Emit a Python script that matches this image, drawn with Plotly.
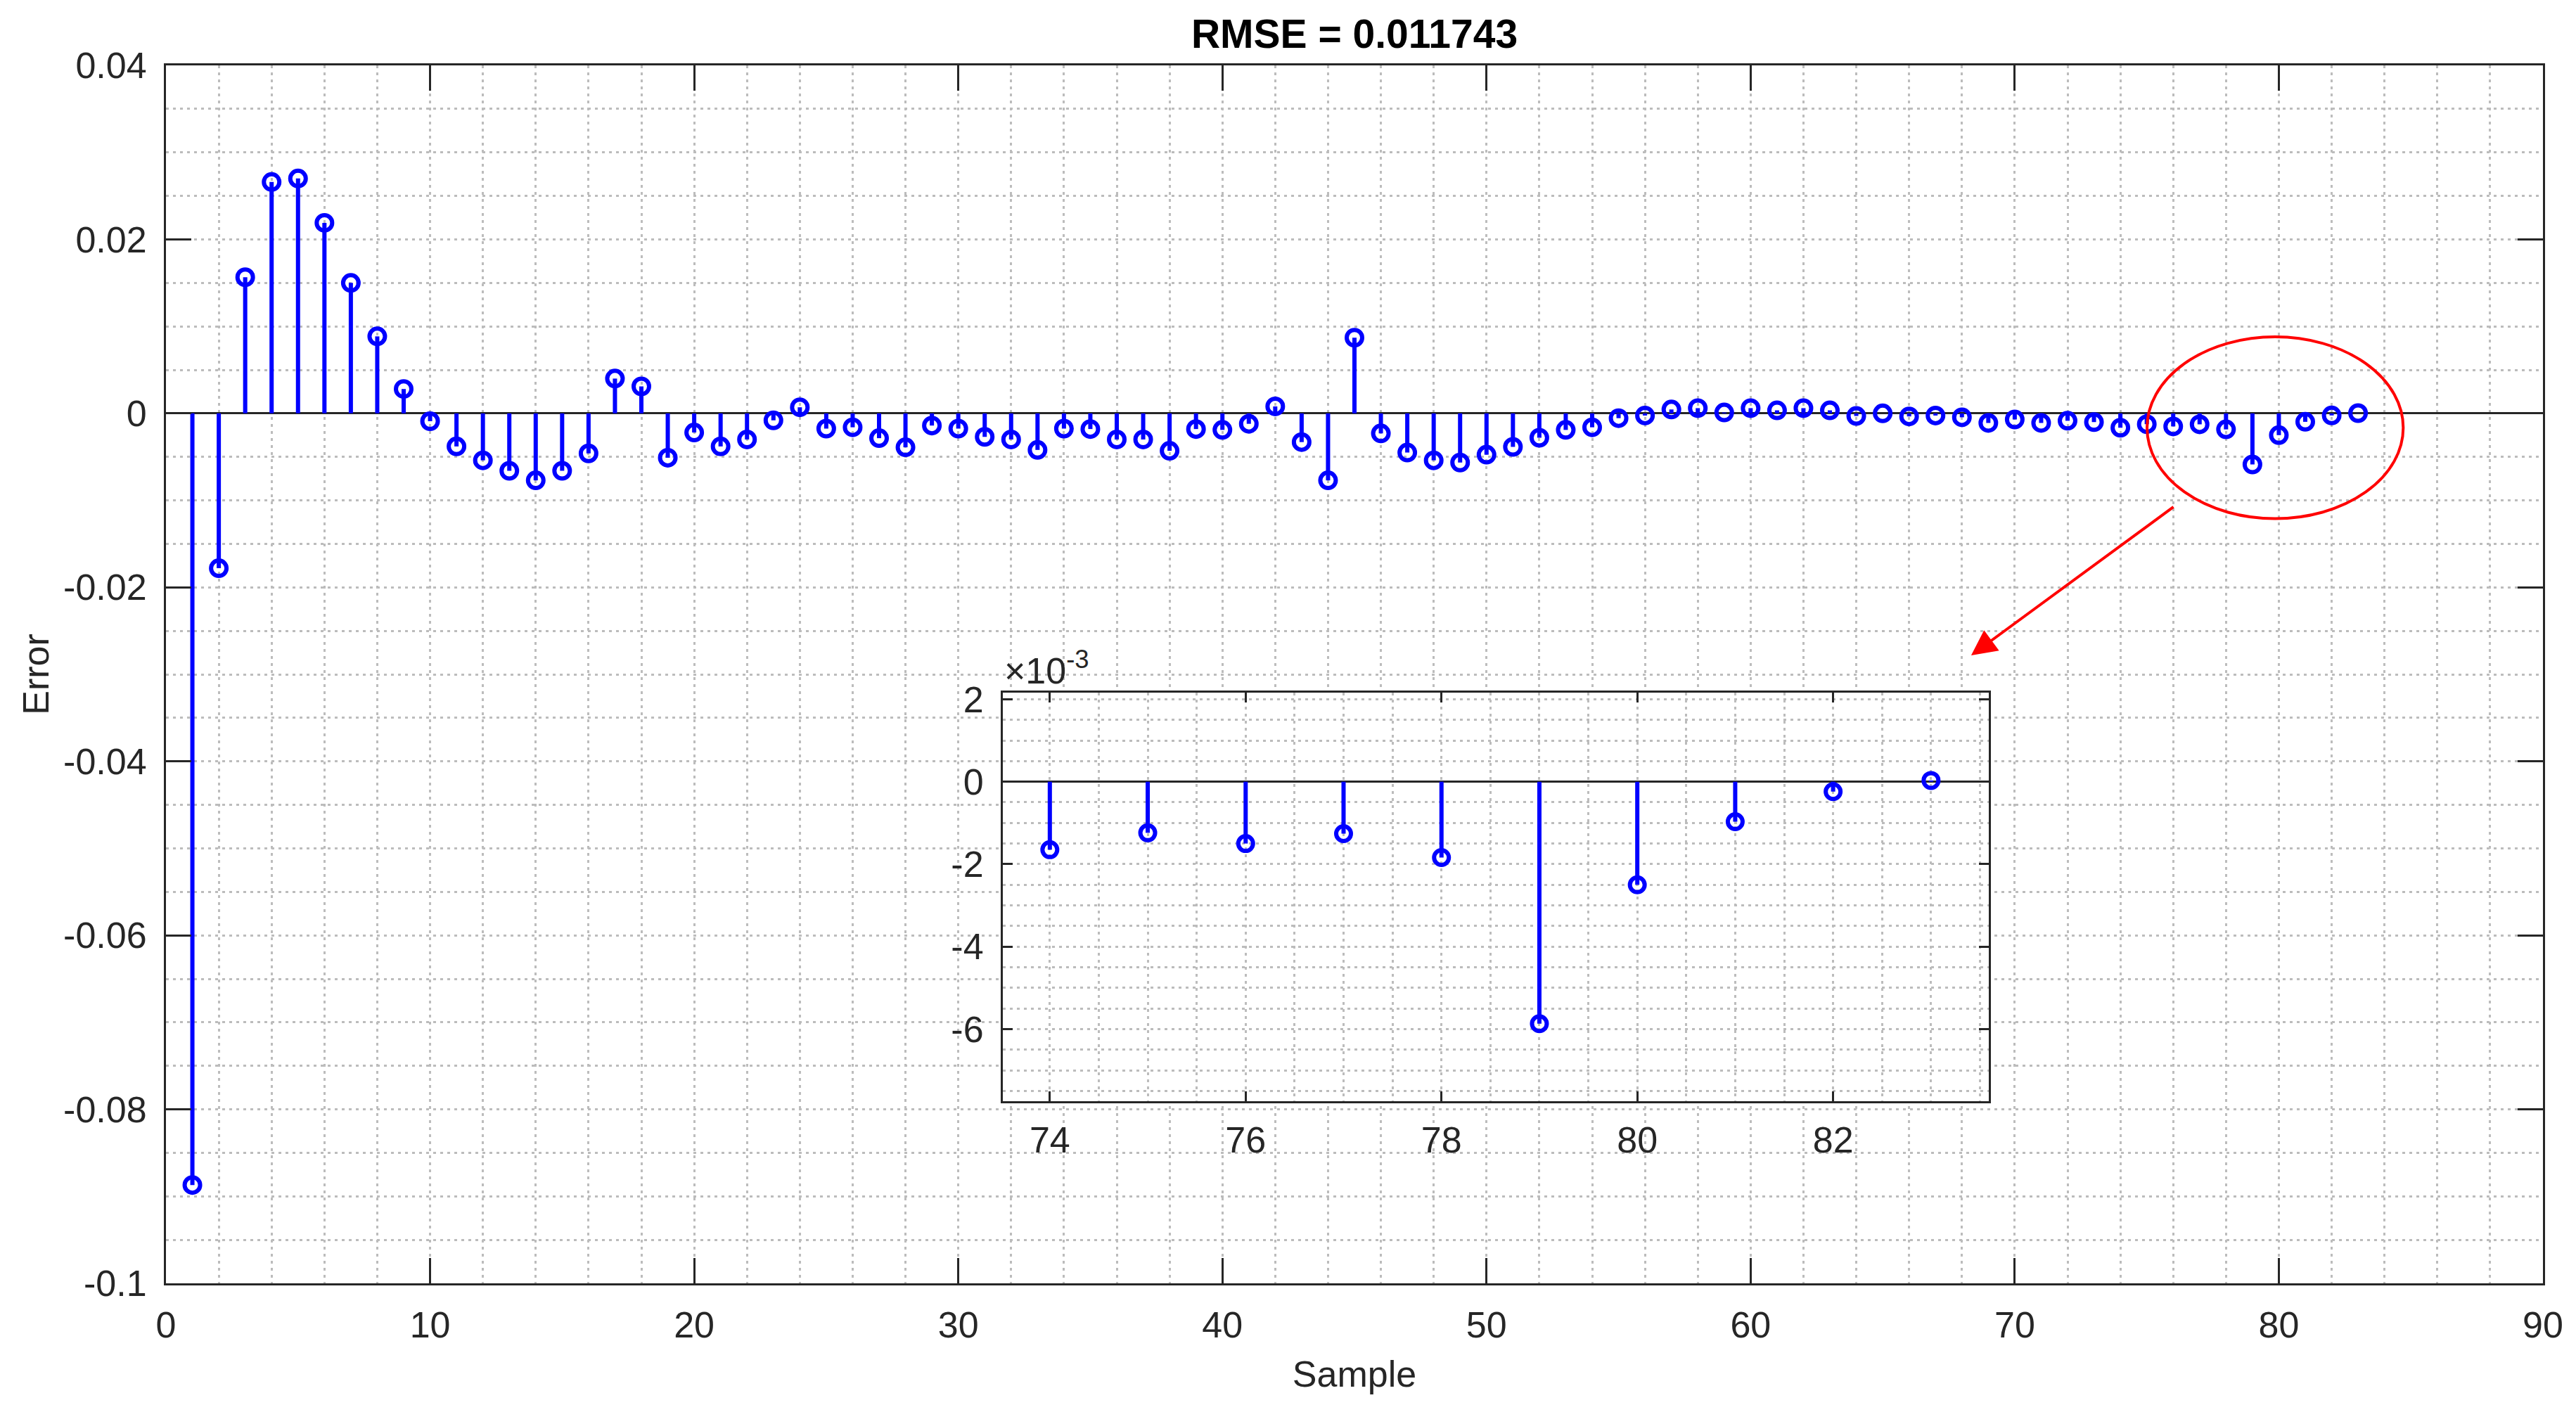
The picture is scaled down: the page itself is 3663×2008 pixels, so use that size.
import plotly.graph_objects as go

# ---------------- data ----------------
samples = list(range(1, 84))
errors = [
    -0.0887, -0.0178, 0.01565, 0.0266, 0.0270, 0.0219, 0.0150, 0.00885, 0.0028, -0.0009,
    -0.0038, -0.0054, -0.0066, -0.0077, -0.0066, -0.0046, 0.0040, 0.0031, -0.0051, -0.0022,
    -0.0038, -0.0030, -0.0008, 0.0007, -0.00175, -0.0016, -0.00285, -0.0039, -0.0014, -0.00175,
    -0.0027, -0.0030, -0.0042, -0.00175, -0.0018, -0.0030, -0.0030, -0.0043, -0.0018, -0.0019,
    -0.0012, 0.0008, -0.0033, -0.0077, 0.0087, -0.0023, -0.0045, -0.0054, -0.00565, -0.00475,
    -0.00385, -0.0028, -0.0019, -0.0016, -0.00055, -0.00025, 0.00045, 0.0006, 0.0001, 0.0006,
    0.00035, 0.0006, 0.00035, -0.0003, 0.0, -0.00035, -0.00025, -0.00045, -0.0011, -0.0007,
    -0.0011, -0.00085, -0.0010, -0.00165, -0.00124, -0.0015, -0.00126, -0.00184, -0.00587, -0.0025,
    -0.00097, -0.00024, 0.00003,
]
title_text = "RMSE = 0.011743"
x_label = "Sample"
y_label = "Error"
x_tickvals = [0, 10, 20, 30, 40, 50, 60, 70, 80, 90]
y_tickvals = [0.04, 0.02, 0, -0.02, -0.04, -0.06, -0.08, -0.1]
y_ticktext = ["0.04", "0.02", "0", "-0.02", "-0.04", "-0.06", "-0.08", "-0.1"]

inset_first_sample = 74
inset_samples = [s for s in samples if s >= inset_first_sample]
inset_errors = [e for s, e in zip(samples, errors) if s >= inset_first_sample]
inset_x_tickvals = [74, 76, 78, 80, 82]
inset_y_tickvals = [0.002, 0, -0.002, -0.004, -0.006]
inset_y_ticktext = ["2", "0", "-2", "-4", "-6"]
inset_exponent = "\u00d710<sup>-3</sup>"

# ---------------- style ----------------
W, H = 3663, 2008
L, R, T, B = 236, 3663 - 3616, 93, 2008 - 1825
BLUE = "#0000FF"
AX = "#262626"
GRID = "#bcbcbc"
GDASH = "4px,6px"
FONT = "Liberation Sans, Arial, Helvetica, sans-serif"
FS = 52


def stems(xs, ys):
    sx, sy = [], []
    for x, y in zip(xs, ys):
        sx += [x, x, None]
        sy += [0, y, None]
    return sx, sy


fig = go.Figure()

sx, sy = stems(samples, errors)
fig.add_trace(go.Scatter(x=sx, y=sy, mode="lines", line=dict(color=BLUE, width=6),
                         hoverinfo="skip", showlegend=False, xaxis="x", yaxis="y"))
fig.add_trace(go.Scatter(x=samples, y=errors, mode="markers",
                         marker=dict(symbol="circle-open", size=22, color=BLUE, line=dict(width=6, color=BLUE)),
                         showlegend=False, xaxis="x", yaxis="y"))

isx, isy = stems(inset_samples, inset_errors)
fig.add_trace(go.Scatter(x=isx, y=isy, mode="lines", line=dict(color=BLUE, width=6),
                         hoverinfo="skip", showlegend=False, xaxis="x2", yaxis="y2"))
fig.add_trace(go.Scatter(x=inset_samples, y=inset_errors, mode="markers",
                         marker=dict(symbol="circle-open", size=21, color=BLUE, line=dict(width=6, color=BLUE)),
                         showlegend=False, xaxis="x2", yaxis="y2"))

pw = W - L - R
ph = H - T - B
ix0, ix1 = (1426 - L) / pw, (2828 - L) / pw
iy0, iy1 = (H - B - 1566) / ph, (H - B - 985) / ph

common = dict(showline=True, linecolor=AX, linewidth=3, mirror="ticks",
              ticks="inside", tickcolor=AX, tickwidth=3,
              showgrid=True, gridcolor=GRID, gridwidth=2.5, griddash=GDASH,
              tickfont=dict(family=FONT, size=FS, color=AX))

fig.update_layout(
    width=W, height=H,
    margin=dict(l=L, r=R, t=T, b=B, pad=0),
    paper_bgcolor="white", plot_bgcolor="white",
    font=dict(family=FONT, size=FS, color=AX),
    title=dict(text="<b>" + title_text + "</b>", font=dict(family=FONT, size=57, color="black"),
               x=0.5, xref="paper", xanchor="center", y=1 - 48 / H, yref="container", yanchor="middle"),
    xaxis=dict(domain=[0, 1], range=[0, 90], tickmode="array", tickvals=x_tickvals, ticklen=36,
               zeroline=False, ticklabelstandoff=12,
               minor=dict(dtick=2, tick0=0, showgrid=True, gridcolor=GRID, gridwidth=2.5, griddash=GDASH, ticks=""),
               title=dict(text=x_label, font=dict(family=FONT, size=FS, color=AX), standoff=24),
               anchor="y", **common),
    yaxis=dict(domain=[0, 1], range=[-0.1, 0.04], tickmode="array", tickvals=y_tickvals, ticktext=y_ticktext,
               ticklen=36, zeroline=True, zerolinecolor=AX, zerolinewidth=3, ticklabelstandoff=14,
               minor=dict(dtick=0.005, tick0=0, showgrid=True, gridcolor=GRID, gridwidth=2.5, griddash=GDASH, ticks=""),
               title=dict(text=y_label, font=dict(family=FONT, size=FS, color=AX), standoff=4),
               anchor="x", **common),
    xaxis2=dict(domain=[ix0, ix1], range=[73.52, 83.59], tickmode="array", tickvals=inset_x_tickvals,
                ticklen=14, zeroline=False, ticklabelstandoff=8,
                minor=dict(dtick=0.5, tick0=0, showgrid=True, gridcolor=GRID, gridwidth=2.5, griddash=GDASH, ticks=""),
                anchor="y2", **common),
    yaxis2=dict(domain=[iy0, iy1], range=[-0.00775, 0.00216], tickmode="array", tickvals=inset_y_tickvals,
                ticktext=inset_y_ticktext, ticklen=14, zeroline=True, zerolinecolor=AX, zerolinewidth=3,
                ticklabelstandoff=14,
                minor=dict(dtick=0.0005, tick0=0, showgrid=True, gridcolor=GRID, gridwidth=2.5, griddash=GDASH, ticks=""),
                anchor="x2", **common),
)

# red ellipse around samples 75-84
fig.add_shape(type="circle", xref="x", yref="y", x0=75.01, x1=84.71, y0=-0.0121, y1=0.0088,
              line=dict(color="#FF0000", width=4), layer="above")

# red arrow pointing to the inset
fig.add_annotation(x=68.35, y=-0.02782, ax=76.05, ay=-0.01067, xref="x", yref="y", axref="x", ayref="y",
                   text="", showarrow=True, arrowhead=2, arrowsize=1.8, arrowwidth=4, arrowcolor="#FF0000")

# exponent label of the inset
fig.add_annotation(x=0, y=1, xref="x2 domain", yref="y2 domain", xanchor="left", yanchor="bottom",
                   text=inset_exponent, showarrow=False, xshift=0, yshift=0,
                   font=dict(family=FONT, size=FS, color=AX))

fig.write_html("out.html", config={"displayModeBar": False},
               post_script="document.body.style.margin='0';document.body.style.overflow='hidden';")
